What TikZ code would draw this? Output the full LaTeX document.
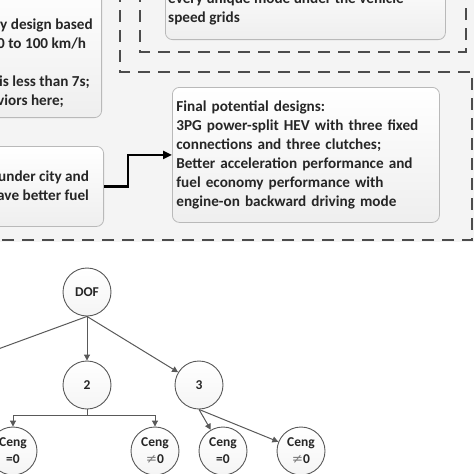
\documentclass[tikz,border=0pt]{standalone}
\usepackage{fontspec}
\setmainfont{Carlito}
\newfontfamily\symfont{DejaVu Sans}
\usetikzlibrary{arrows.meta}

\begin{document}
\begin{tikzpicture}[x=1pt, y=-1pt,
    box/.style={rectangle, rounded corners=7pt, draw=gray!55, line width=0.8pt, top color=white, bottom color=gray!13},
    frame/.style={draw=black!70, line width=1.8pt, dash pattern=on 12pt off 8pt},
    txt/.style={font=\bfseries\fontsize{15.2}{19}\selectfont, inner sep=0pt, text=black!85},
    state/.style={circle, draw=black!65, line width=0.9pt, minimum size=48pt, inner sep=0pt, top color=white, bottom color=gray!8, align=center, font=\bfseries\fontsize{13.5}{17}\selectfont, text=black!85},
    link/.style={draw=black!65, line width=1pt, -{Triangle[length=6pt,width=6pt]}}]

    \useasboundingbox (0, 0) rectangle (474, 474);
    \clip (0, 0) rectangle (474, 474);

    \fill[gray!9] (0, 0) rectangle (474, 242);

    % dashed frames
    \draw[frame] (140, -10) -- (140, 52) -- (466, 52) -- (466, -10);
    \draw[frame] (120, -10) -- (120, 72) -- (472, 72) -- (472, 240) -- (-10, 240);

    % boxes
    \node[box, anchor=south east, minimum width=130pt, minimum height=140pt] (speed) at (102, 118) {};
    \node[box, anchor=south west, minimum width=280pt, minimum height=70pt] (grids) at (165, 40) {};
    \node[box, anchor=north east, minimum width=130pt, minimum height=80pt] (city) at (104, 146) {};
    \node[box, txt, anchor=north west, align=left, text width=259pt, minimum height=135pt, inner xsep=4pt] (final) at (172, 87)
        {Final potential designs:\\3PG power-split HEV with three fixed\\connections and three clutches;\\Better acceleration performance and\\fuel economy performance with\\engine-on backward driving mode};

    \node[txt, anchor=base west] (l1) at (0, 29.5) {y design based};
    \node[txt, anchor=base west] (l2) at (-3, 48.5) {0 to 100 km/h};
    \node[txt, anchor=base west] (l3) at (-1, 86.5) {is less than 7s;};
    \node[txt, anchor=base west] (l4) at (-3, 105.5) {viors here;};
    \node[txt, anchor=base west] (l5) at (-2, 181.5) {under city and};
    \node[txt, anchor=base west] (l6) at (-3, 200.5) {ave better fuel};
    \node[txt, anchor=base west] (r1) at (168, 3.5) {every unique mode under the vehicle};
    \node[txt, anchor=base west] (r2) at (168, 22.5) {speed grids};

    \draw[line width=2.4pt, -{Triangle[length=9pt, width=8pt]}] (city.east) -- ++(24, 0) |- (final.west);

    % tree
    \node[state] (dof) at (87, 292) {DOF};
    \node[state] (two) at (87, 385) {2};
    \node[state] (three) at (199, 385) {3};
    \node[state] (ceng1) at (13, 451) {Ceng\\=0};
    \node[state] (ceng2) at (155, 451) {Ceng\\{\color{gray}\symfont\mdseries ≠}0};
    \node[state] (ceng3) at (223, 451) {Ceng\\=0};
    \node[state] (ceng4) at (301, 451) {Ceng\\{\color{gray}\symfont\mdseries ≠}0};
    \coordinate (one) at (-10, 352);

    \draw[link, -] (dof.south) -- (one);
    \draw[link] (dof.south) -- (two);
    \draw[link] (dof.south) -- (three);
    \draw[link] (two.south) -- ++(0, 6) -| (ceng1.north);
    \draw[link] (two.south) ++(0, 6) -| (ceng2.north);
    \draw[link] (three.south) -- (ceng3);
    \draw[link] (three.south) -- (ceng4);

\end{tikzpicture}
\end{document}
